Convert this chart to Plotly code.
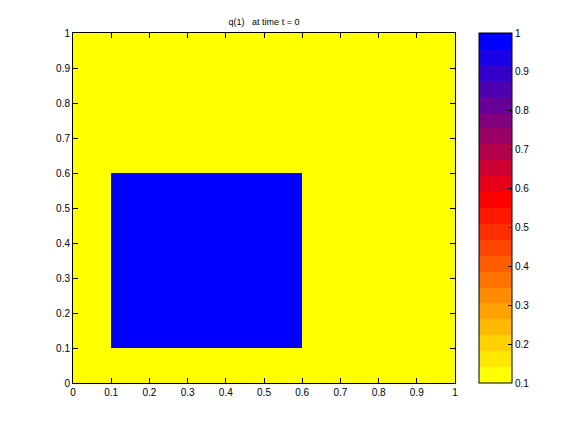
import plotly.graph_objects as go

# Cell edges of the grid
x_edges = [0.0, 0.1, 0.2, 0.3, 0.4, 0.5, 0.6, 0.7, 0.8, 0.9, 1.0]
y_edges = [0.0, 0.1, 0.2, 0.3, 0.4, 0.5, 0.6, 0.7, 0.8, 0.9, 1.0]

# q(1) values at t = 0 (rows from bottom y=0 to top y=1)
q_values = [
    [0.1, 0.1, 0.1, 0.1, 0.1, 0.1, 0.1, 0.1, 0.1, 0.1],
    [0.1, 1.0, 1.0, 1.0, 1.0, 1.0, 0.1, 0.1, 0.1, 0.1],
    [0.1, 1.0, 1.0, 1.0, 1.0, 1.0, 0.1, 0.1, 0.1, 0.1],
    [0.1, 1.0, 1.0, 1.0, 1.0, 1.0, 0.1, 0.1, 0.1, 0.1],
    [0.1, 1.0, 1.0, 1.0, 1.0, 1.0, 0.1, 0.1, 0.1, 0.1],
    [0.1, 1.0, 1.0, 1.0, 1.0, 1.0, 0.1, 0.1, 0.1, 0.1],
    [0.1, 0.1, 0.1, 0.1, 0.1, 0.1, 0.1, 0.1, 0.1, 0.1],
    [0.1, 0.1, 0.1, 0.1, 0.1, 0.1, 0.1, 0.1, 0.1, 0.1],
    [0.1, 0.1, 0.1, 0.1, 0.1, 0.1, 0.1, 0.1, 0.1, 0.1],
    [0.1, 0.1, 0.1, 0.1, 0.1, 0.1, 0.1, 0.1, 0.1, 0.1],
]

axis_ticks = [0, 0.1, 0.2, 0.3, 0.4, 0.5, 0.6, 0.7, 0.8, 0.9, 1]
axis_labels = ["0", "0.1", "0.2", "0.3", "0.4", "0.5", "0.6", "0.7", "0.8", "0.9", "1"]
cbar_ticks = [0.1, 0.2, 0.3, 0.4, 0.5, 0.6, 0.7, 0.8, 0.9, 1]
cbar_labels = ["0.1", "0.2", "0.3", "0.4", "0.5", "0.6", "0.7", "0.8", "0.9", "1"]

# Discrete yellow-red-blue colormap with 22 bands
n_bands = 22
band_colors = []
for i in range(n_bands):
    if i <= 11:
        g = round(255 * (1 - i / 11))
        band_colors.append(f"rgb(255,{g},0)")
    else:
        t = (i - 11) / 10
        band_colors.append(f"rgb({round(255*(1-t))},0,{round(255*t)})")
colorscale = []
for i, c in enumerate(band_colors):
    colorscale.append([i / n_bands, c])
    colorscale.append([(i + 1) / n_bands, c])

font_family = "Liberation Sans, Arial, Helvetica, sans-serif"

fig = go.Figure(
    go.Heatmap(
        x=x_edges,
        y=y_edges,
        z=q_values,
        zmin=0.1,
        zmax=1.0,
        colorscale=colorscale,
        colorbar=dict(
            x=1.0628,
            xanchor="left",
            xpad=0,
            ypad=0,
            y=0.5,
            yanchor="middle",
            len=1,
            lenmode="fraction",
            thickness=33,
            thicknessmode="pixels",
            outlinecolor="black",
            outlinewidth=1,
            tickvals=cbar_ticks,
            ticktext=cbar_labels,
            ticks="inside",
            ticklen=4,
            tickcolor="black",
            tickfont=dict(family=font_family, size=10, color="black"),
        ),
        hoverinfo="skip",
    )
)

axis_style = dict(
    range=[0, 1],
    tickvals=axis_ticks,
    ticktext=axis_labels,
    ticks="inside",
    ticklen=5,
    tickcolor="black",
    showline=True,
    linecolor="black",
    linewidth=1,
    mirror="ticks",
    showgrid=False,
    zeroline=False,
    tickfont=dict(family=font_family, size=10, color="black"),
)

fig.update_layout(
    width=576,
    height=432,
    margin=dict(l=65, r=129, t=25, b=57),
    paper_bgcolor="white",
    plot_bgcolor="white",
    title=dict(
        text="q(1)   at time t = 0",
        x=(65 + 447) / 2 / 576,
        xanchor="center",
        y=1 - 14 / 432,
        yanchor="middle",
        font=dict(family=font_family, size=9, color="black"),
    ),
    xaxis=axis_style,
    yaxis=axis_style,
)

fig.write_html("out.html")
